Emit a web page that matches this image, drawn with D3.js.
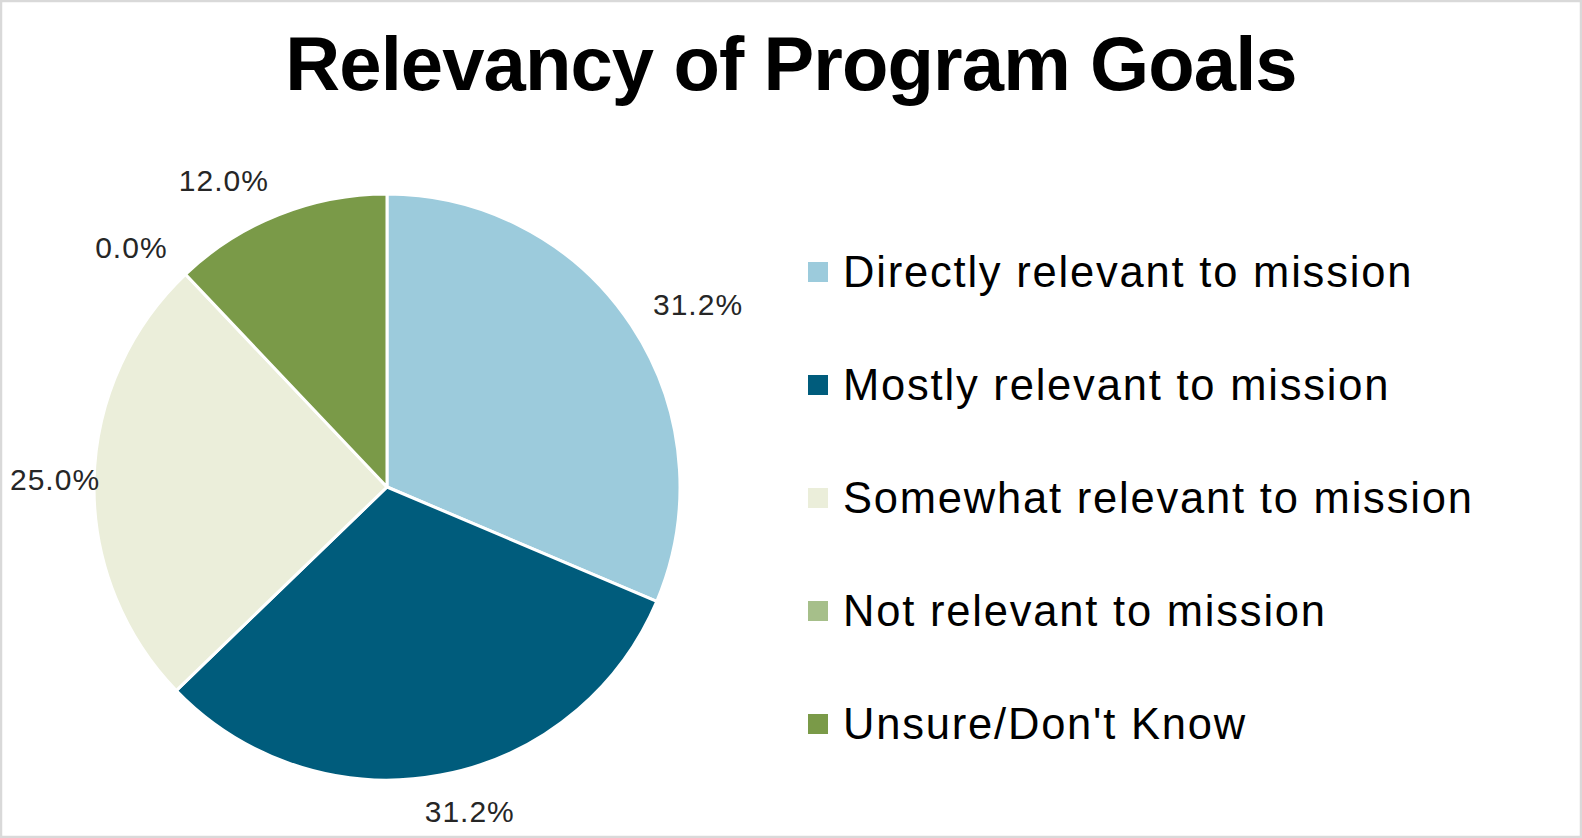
<!DOCTYPE html>
<html>
<head>
<meta charset="utf-8">
<script src="https://cdn.jsdelivr.net/npm/d3@7"></script>
<style>
  html, body { margin: 0; padding: 0; background: #fff; }
  svg { display: block; }
</style>
</head>
<body>
<script>
// chart data
const categories = [
  "Directly relevant to mission",
  "Mostly relevant to mission",
  "Somewhat relevant to mission",
  "Not relevant to mission",
  "Unsure/Don't Know"
];
const values = [31.2, 31.2, 25.0, 0.0, 12.0];
const colors = ["#9ccbdc", "#005c7c", "#ebeeda", "#a6bf8a", "#7a9a48"];

const width = 1582, height = 838;
const cx = 387, cy = 487, radius = 293;

const svg = d3.select("body").append("svg")
    .attr("width", width)
    .attr("height", height)
    .attr("font-family", "'Liberation Sans', Arial, sans-serif");

// border
svg.append("rect")
    .attr("x", 1).attr("y", 1)
    .attr("width", width - 2).attr("height", height - 2)
    .attr("fill", "#fff")
    .attr("stroke", "#d9d9d9")
    .attr("stroke-width", 2.5);

svg.append("text")
    .attr("x", width / 2)
    .attr("y", 90)
    .attr("text-anchor", "middle")
    .attr("font-size", 76)
    .attr("letter-spacing", -0.9)
    .attr("font-weight", "bold")
    .attr("fill", "#000")
    .text("Relevancy of Program Goals");

const data = categories.map((c, i) => ({ name: c, value: values[i], color: colors[i] }));

const pie = d3.pie().value(d => d.value).sort(null);
const arcs = pie(data);

const arc = d3.arc().innerRadius(0).outerRadius(radius);

const g = svg.append("g").attr("transform", `translate(${cx},${cy})`);

g.selectAll("path")
  .data(arcs.filter(d => d.data.value > 0))
  .join("path")
    .attr("d", arc)
    .attr("fill", d => d.data.color)
    .attr("stroke", "#fff")
    .attr("stroke-width", 3)
    .attr("stroke-linejoin", "round");

// data labels outside the pie
const fmt = d3.format(".1f");
const labelGap = 26;
const lab = g.selectAll("text.lbl")
  .data(arcs)
  .join("text")
    .attr("class", "lbl")
    .attr("font-size", 30)
    .attr("letter-spacing", 1)
    .attr("fill", "#262626")
    .attr("text-anchor", "middle")
    .attr("dominant-baseline", "central")
    .text(d => fmt(d.data.value) + "%");

lab.each(function(d) {
  const t = d3.select(this);
  const w = this.getComputedTextLength();
  const h = 22;
  const a = (d.startAngle + d.endAngle) / 2;
  const r = radius + labelGap;
  const px = Math.sin(a) * r;
  const py = -Math.cos(a) * r;
  let x = px + Math.max(-1, Math.min(1, 3 * Math.sin(a))) * w / 2;
  let y = py - Math.cos(a) * h / 2;
  // keep inside chart area
  x = Math.max(10 - cx + w / 2, x);
  t.attr("x", x).attr("y", y);
});

// legend
const legend = svg.append("g").attr("transform", "translate(808,272)");
const rowH = 113;
const item = legend.selectAll("g")
  .data(data)
  .join("g")
    .attr("transform", (d, i) => `translate(0,${i * rowH})`);

item.append("rect")
    .attr("x", 0).attr("y", -10)
    .attr("width", 20).attr("height", 20)
    .attr("fill", d => d.color);

item.append("text")
    .attr("x", 35)
    .attr("y", 0)
    .attr("dominant-baseline", "central")
    .attr("font-size", 43.5)
    .attr("letter-spacing", 1.8)
    .attr("fill", "#000")
    .text(d => d.name);
</script>
</body>
</html>
